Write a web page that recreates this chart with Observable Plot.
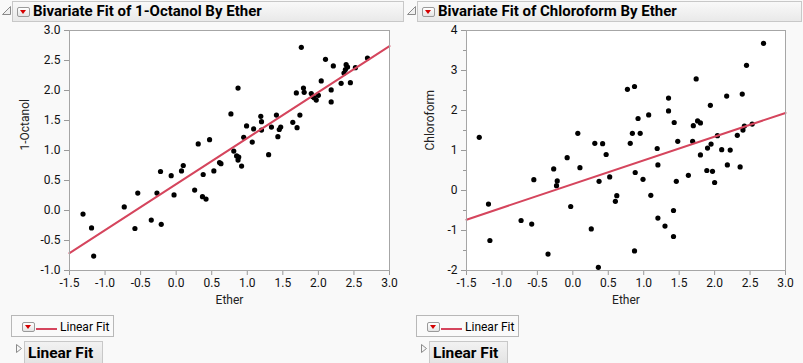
<!DOCTYPE html>
<html><head><meta charset="utf-8">
<script src="https://cdn.jsdelivr.net/npm/d3@7"></script>
<script src="https://cdn.jsdelivr.net/npm/@observablehq/plot@0.6"></script>
<style>
body{margin:0;background:#f9f9f9;font-family:Roboto,'Noto Sans',sans-serif;}
#root{position:relative;width:803px;height:363px;overflow:hidden;background:#f9f9f9;}
.hdr{position:absolute;top:1px;height:19px;border:1px solid #c8c8c8;background:linear-gradient(#f9f9f9,#e9e9e9);box-sizing:content-box;}
.hdr .t{position:absolute;left:20px;top:0;line-height:19px;font-weight:bold;font-size:15px;color:#000;white-space:nowrap;}
.btn{position:absolute;width:11px;height:8px;border:1px solid #9a9a9a;border-radius:2px;background:linear-gradient(#ffffff,#e4e4e4);}
.btn:after{content:"";position:absolute;left:2px;top:2px;border-left:3.5px solid transparent;border-right:3.5px solid transparent;border-top:4px solid #d40000;}
.leg{position:absolute;top:315px;width:101px;height:20px;border:1px solid #b8b8b8;background:#fafafa;}
.leg .ln{position:absolute;left:24px;top:12px;width:21px;height:2px;background:#d5455d;}
.leg .lt{position:absolute;left:48px;top:2px;font-size:12px;line-height:18px;color:#000;}
.out{position:absolute;top:341px;width:77px;height:22px;border:1px solid #c8c8c8;background:linear-gradient(#f2f2f2,#e3e3e3);}
.out span{position:absolute;left:3px;top:0;line-height:22px;font-weight:bold;font-size:15.5px;color:#000;}
</style></head>
<body><div id="root"></div>
<script>
// ---- data ----
const etherA = [1.76,2.10,2.21,2.39,2.41,2.38,2.36,2.52,2.69,2.32,2.45,2.18,2.18,2.04,1.79,1.80,1.69,1.90,1.92,1.94,2.00,1.97,1.74,1.64,1.70,0.87,0.77,1.41,1.19,1.20,0.99,1.09,1.20,1.34,1.47,1.45,1.43,0.95,1.07,1.30,0.47,0.31,0.81,0.85,0.88,0.87,0.92,0.61,0.63,0.10,0.075,-0.22,-0.07,0.38,0.53,0.26,0.37,0.42,-0.03,-0.27,-0.54,-0.73,-0.35,-0.21,-0.58,-1.31,-1.19,-1.16];
const octanol = [2.72,2.52,2.41,2.43,2.39,2.35,2.29,2.38,2.54,2.12,2.13,2.01,1.81,2.16,2.04,1.97,1.96,1.95,1.90,1.88,1.92,1.84,1.59,1.47,1.38,2.04,1.61,1.59,1.57,1.48,1.41,1.36,1.34,1.39,1.39,1.35,1.23,1.22,1.14,0.93,1.18,1.11,0.99,0.91,0.89,0.84,0.74,0.80,0.78,0.75,0.66,0.65,0.58,0.60,0.66,0.34,0.23,0.19,0.26,0.29,0.29,0.06,-0.16,-0.23,-0.30,-0.06,-0.29,-0.76];
const etherB = [2.69,2.45,1.74,0.77,0.87,2.17,2.39,1.35,1.94,1.35,1.07,0.92,1.43,1.76,1.80,1.70,2.53,2.42,2.40,2.32,2.04,0.84,0.95,0.81,0.07,-1.32,0.31,0.42,0.47,-0.08,1.19,1.48,1.69,1.95,1.90,2.10,2.22,1.80,1.20,2.18,2.36,-0.27,0.10,-0.55,-0.22,-0.23,0.37,0.52,0.88,0.99,1.63,1.89,1.97,1.46,2.00,1.10,0.62,0.60,-0.03,-1.19,-0.73,-0.58,-1.17,-0.35,0.26,0.36,0.87,1.20,1.30,1.42,1.42];
const chloroform = [3.68,3.13,2.79,2.53,2.60,2.36,2.41,2.31,2.13,1.99,1.89,1.80,1.70,1.74,1.69,1.62,1.66,1.61,1.51,1.38,1.37,1.43,1.43,1.18,1.43,1.33,1.18,1.17,0.90,0.82,1.05,1.23,1.23,1.16,1.06,1.02,1.01,0.89,0.64,0.64,0.59,0.54,0.57,0.27,0.24,0.12,0.23,0.34,0.45,0.28,0.38,0.50,0.48,0.23,0.20,-0.12,-0.13,-0.27,-0.40,-0.34,-0.75,-0.84,-1.25,-1.59,-0.96,-1.92,-1.51,-0.69,-0.89,-0.50,-1.15];
const fitOctanol = [0.44, 0.767];     // intercept, slope
const fitChloroform = [0.16, 0.593];  // intercept, slope
const xDomain = [-1.5, 3.0];
const xTicks = [-1.5,-1.0,-0.5,0.0,0.5,1.0,1.5,2.0,2.5,3.0];
const yTicksA = [-1.0,-0.5,0.0,0.5,1.0,1.5,2.0,2.5,3.0];
const yTicksB = [-2,-1,0,1,2,3,4];
const yMinorB = [-1.5,-0.5,0.5,1.5,2.5,3.5];
const titles = ["Bivariate Fit of 1-Octanol By Ether","Bivariate Fit of Chloroform By Ether"];

const RED = "#d5455d";
function panel({xs, ys, fit, yDomain, yTicks, yMinor, yFmt, yLabel, labelDx, width, ml, mr}) {
  const pts = xs.map((x,i)=>({x, y: ys[i]}));
  const fitLine = xDomain.map(x => ({x, y: fit[0] + fit[1]*x}));
  const marks = [
    Plot.frame({fill:"white", stroke:"none"}),
    Plot.axisX({ticks: xTicks, tickFormat: d=>d.toFixed(1), tickSize:5, tickPadding:3, stroke:"#999", fill:"#111", label:null}),
    Plot.axisY({ticks: yTicks, tickFormat: yFmt, tickSize:5, tickPadding:4, stroke:"#999", fill:"#111", label:null}),
  ];
  if (yMinor) marks.push(Plot.axisY({ticks: yMinor, tickFormat: ()=>"", tickSize:3, stroke:"#999", label:null}));
  marks.push(
    Plot.dot(pts, {x:"x", y:"y", r:2.6, fill:"black", stroke:"none"}),
    Plot.line(fitLine, {x:"x", y:"y", stroke:RED, strokeWidth:2}),
    Plot.frame({stroke:"#a6a6a6"}),
    Plot.text(["Ether"], {frameAnchor:"bottom", dy:30, lineAnchor:"middle", fill:"#222", fontSize:12}),
    Plot.text([yLabel], {frameAnchor:"left", dx:labelDx, rotate:-90, lineAnchor:"middle", fill:"#222", fontSize:12})
  );
  return Plot.plot({
    width, height: 320,
    marginLeft: ml, marginRight: mr, marginTop: 30, marginBottom: 50,
    x: {domain: xDomain, nice:false},
    y: {domain: yDomain, nice:false},
    style: {background:"transparent", fontFamily:"Roboto, 'Noto Sans', sans-serif", fontSize:"12px", overflow:"visible"},
    marks
  });
}

const root = document.getElementById("root");
const left = panel({xs: etherA, ys: octanol, fit: fitOctanol, yDomain:[-1,3], yTicks: yTicksA, yFmt: d=>d.toFixed(1), yLabel:"1-Octanol", labelDx:-44, width:400, ml:69, mr:11});
left.style.position="absolute"; left.style.left="0px"; left.style.top="0px";
root.appendChild(left);
const right = panel({xs: etherB, ys: chloroform, fit: fitChloroform, yDomain:[-2,4], yTicks: yTicksB, yMinor: yMinorB, yFmt: d=>String(d), yLabel:"Chloroform", labelDx:-36, width:403, ml:66, mr:18});
right.style.position="absolute"; right.style.left="400px"; right.style.top="0px";
root.appendChild(right);

function tri(x, y, open) {
  const s = document.createElementNS("http://www.w3.org/2000/svg","svg");
  s.setAttribute("width", 10); s.setAttribute("height", 10);
  s.style.position="absolute"; s.style.left=x+"px"; s.style.top=y+"px";
  const p = document.createElementNS("http://www.w3.org/2000/svg","polygon");
  p.setAttribute("points", open ? "0.5,8.5 8.5,8.5 8.5,0.5" : "1.5,0.5 6.5,4.5 1.5,8.5");
  p.setAttribute("fill", open ? "#f0f0f0" : "#f7f7f7");
  p.setAttribute("stroke", "#8a8a8a");
  s.appendChild(p);
  root.appendChild(s);
}
function header(x, w, text) {
  const h = document.createElement("div");
  h.className="hdr"; h.style.left=x+"px"; h.style.width=w+"px";
  const b = document.createElement("div"); b.className="btn"; b.style.left="4px"; b.style.top="5px";
  const t = document.createElement("div"); t.className="t"; t.textContent=text;
  h.appendChild(b); h.appendChild(t); root.appendChild(h);
}
function legend(x) {
  const l = document.createElement("div"); l.className="leg"; l.style.left=x+"px";
  const b = document.createElement("div"); b.className="btn"; b.style.left="10px"; b.style.top="6px";
  const ln = document.createElement("div"); ln.className="ln";
  const lt = document.createElement("div"); lt.className="lt"; lt.textContent="Linear Fit";
  l.appendChild(b); l.appendChild(ln); l.appendChild(lt); root.appendChild(l);
}
function outline(x) {
  const o = document.createElement("div"); o.className="out"; o.style.left=x+"px";
  const s = document.createElement("span"); s.textContent="Linear Fit";
  o.appendChild(s); root.appendChild(o);
}
tri(2, 6, true); header(12, 390, titles[0]);
tri(407, 6, true); header(417, 383, titles[1]);
legend(11); legend(416);
tri(15, 344, false); outline(24);
tri(420, 344, false); outline(429);
</script></body></html>
